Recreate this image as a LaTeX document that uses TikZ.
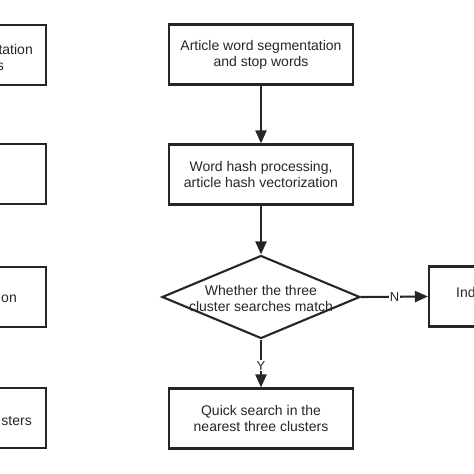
\documentclass[tikz,border=0pt]{standalone}
\usepackage{fontspec}
\setmainfont{Liberation Sans}
\usetikzlibrary{arrows.meta,shapes.geometric}
\begin{document}
\begin{tikzpicture}[x=1pt,y=-1pt,
 box/.style={draw=black!85, line width=2.1pt, minimum width=184pt, minimum height=60pt, inner sep=0pt, align=center, font=\fontsize{14}{16}\selectfont, text=black!85},
 txt/.style={inner sep=0pt, font=\fontsize{14}{16}\selectfont, text=black!85},
 arr/.style={line width=2.1pt, draw=black!85, -{Triangle[length=13pt,width=11pt]}},
 lbl/.style={fill=white, inner sep=1pt, font=\fontsize{13}{14}\selectfont, text=black!85}]
\useasboundingbox (0,0) rectangle (474,474);
\clip (0,0) rectangle (474,474);
% left column (cut off)
\node[box] (l1) at (-46,55) {};
\node[box] (l2) at (-46,174) {};
\node[box] (l3) at (-46,297) {};
\node[box] (l4) at (-46,418) {};
\node[txt, anchor=base east] (l1a) at (33,54) {tation};
\node[txt, anchor=base east] (l1b) at (4,70) {s};
\node[txt, anchor=base east] (l3a) at (17,302) {on};
\node[txt, anchor=base east] (l4a) at (32,425) {sters};
% centre column
\node[box] (a) at (261,54.5) {Article word segmentation\\and stop words};
\node[box] (b) at (261,174.5) {Word hash processing,\\article hash vectorization};
\node[draw=black!85, line width=2.1pt, shape=diamond, minimum width=198pt, minimum height=83pt, inner sep=0pt] (d) at (261,297) {};
\node[txt, align=center] (dt) at (261,298) {Whether the three\\cluster searches match};
\node[box] (c) at (261,418.5) {Quick search in the\\nearest three clusters};
\node[box] (r) at (521,296.5) {};
\node[txt, anchor=base west] (rt) at (456,297) {Ind};
% connectors
\draw[arr] (a) -- (b);
\draw[arr] (b) -- (d);
\draw[arr] (d.east) -- (r.west) node[lbl, pos=0.5] {N};
\draw[arr] (d.south) -- (c.north) node[lbl, pos=0.55] {Y};
\end{tikzpicture}
\end{document}
